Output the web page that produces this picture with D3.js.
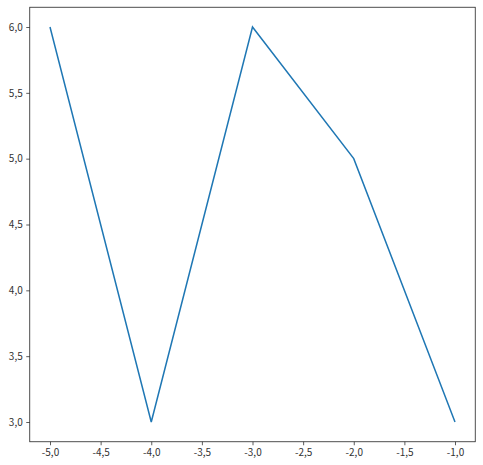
<!DOCTYPE html>
<html>
<head>
<meta charset="utf-8">
<script src="https://cdn.jsdelivr.net/npm/d3@7"></script>
<style>
  body { margin: 0; background: #fff; }
  .tick text { font-family: "Noto Sans CJK KR", "Noto Sans", sans-serif; font-size: 10px; fill: #333; }
</style>
</head>
<body>
<div id="chart"></div>
<script>
// data
var xValues = [-5, -4, -3, -2, -1];
var yValues = [6, 3, 6, 5, 3];
var xTicks = [-5, -4.5, -4, -3.5, -3, -2.5, -2, -1.5, -1];
var yTicks = [3, 3.5, 4, 4.5, 5, 5.5, 6];

var width = 483, height = 465;
var margin = {top: 7.25, right: 7.75, bottom: 23.25, left: 29.75};
var w = width - margin.left - margin.right,
    h = height - margin.top - margin.bottom;

var svg = d3.select("#chart").append("svg")
    .attr("width", width)
    .attr("height", height)
    .append("g")
    .attr("transform", "translate(" + margin.left + "," + margin.top + ")");

// matplotlib-style 5% margins
var x = d3.scaleLinear().domain([-5.2, -0.8]).range([0, w]);
var y = d3.scaleLinear().domain([2.85, 6.15]).range([h, 0]);

var fmt = function(d) { return d3.format(".1f")(d).replace("\u2212", "-").replace(".", ","); };

var xAxis = svg.append("g")
    .attr("transform", "translate(0," + h + ")")
    .call(d3.axisBottom(x).tickValues(xTicks).tickFormat(fmt).tickSize(3.5).tickPadding(3.5));
var yAxis = svg.append("g")
    .call(d3.axisLeft(y).tickValues(yTicks).tickFormat(fmt).tickSize(3.5).tickPadding(3.5));

[xAxis, yAxis].forEach(function(a) {
    a.select(".domain").remove();
    a.selectAll(".tick line").attr("stroke", "#333").attr("stroke-width", 0.8);
});

// frame
svg.append("rect")
    .attr("x", 0).attr("y", 0)
    .attr("width", w).attr("height", h)
    .attr("fill", "none")
    .attr("stroke", "#222")
    .attr("stroke-width", 0.8);

var line = d3.line()
    .x(function(d, i) { return x(xValues[i]); })
    .y(function(d) { return y(d); });

svg.append("path")
    .datum(yValues)
    .attr("d", line)
    .attr("fill", "none")
    .attr("stroke", "#1f77b4")
    .attr("stroke-width", 1.5);
</script>
</body>
</html>
